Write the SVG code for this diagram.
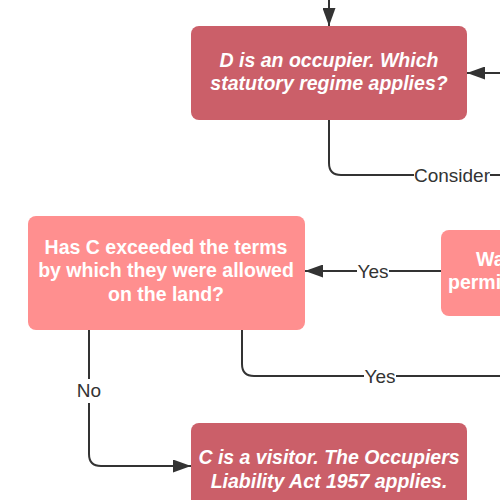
<svg xmlns="http://www.w3.org/2000/svg" width="500" height="500" viewBox="0 0 500 500">
<defs>
<marker id="ah" viewBox="0 0 18 13" refX="18" refY="6.5" markerWidth="18" markerHeight="13" markerUnits="userSpaceOnUse" orient="auto">
<path d="M0,0 L18,6.5 L0,13 Z" fill="#333333"/>
</marker>
<style>
.dark{fill:#cb5f69;}
.light{fill:#ff8f8f;}
.nt{font-family:"Liberation Sans",Arial,sans-serif;font-size:19.5px;font-weight:bold;fill:#ffffff;text-anchor:middle;}
.it{font-style:italic;}
.ln{fill:none;stroke:#333333;stroke-width:2;}
.lb{font-family:"Liberation Sans",Arial,sans-serif;font-size:19px;fill:#333333;text-anchor:middle;}
.lbg{fill:#ffffff;}
</style>
</defs>
<rect width="500" height="500" fill="#ffffff"/>
<g id="connectors">
<path class="ln" d="M329,0 L329,26" marker-end="url(#ah)"/>
<path class="ln" d="M500,73 L467,73" marker-end="url(#ah)"/>
<path class="ln" d="M329,120 L329,163 Q329,175 341,175 L500,175"/>
<rect class="lbg" x="414" y="164" width="76" height="22"/>
<text class="lb" x="452" y="182">Consider</text>
<path class="ln" d="M441,271 L305,271" marker-end="url(#ah)"/>
<rect class="lbg" x="357" y="260" width="32" height="22"/>
<text class="lb" x="373" y="278">Yes</text>
<path class="ln" d="M242,330 L242,364 Q242,376 254,376 L500,376"/>
<rect class="lbg" x="364" y="365" width="32" height="22"/>
<text class="lb" x="380" y="383">Yes</text>
<path class="ln" d="M89,330 L89,454 Q89,466 101,466 L191,466" marker-end="url(#ah)"/>
<rect class="lbg" x="76" y="379" width="26" height="24"/>
<text class="lb" x="89" y="397">No</text>
</g>
<g id="node-occupier">
<rect class="dark" x="191" y="26" width="276" height="94" rx="8"/>
<text class="nt it" x="329" y="67">D is an occupier. Which</text>
<text class="nt it" x="329" y="90">statutory regime applies?</text>
</g>
<g id="node-exceeded">
<rect class="light" x="28" y="216" width="277" height="114" rx="8"/>
<text class="nt" x="166" y="254">Has C exceeded the terms</text>
<text class="nt" x="166" y="277">by which they were allowed</text>
<text class="nt" x="166" y="301">on the land?</text>
</g>
<g id="node-permission">
<rect class="light" x="441" y="230" width="100" height="86" rx="8"/>
<text class="nt" x="476" y="266" style="text-anchor:start">Wa</text>
<text class="nt" x="448" y="289" style="text-anchor:start">permi</text>
</g>
<g id="node-visitor">
<rect class="dark" x="191" y="423" width="276" height="100" rx="8"/>
<text class="nt it" x="329" y="464">C is a visitor. The Occupiers</text>
<text class="nt it" x="329" y="488">Liability Act 1957 applies.</text>
</g>
</svg>
